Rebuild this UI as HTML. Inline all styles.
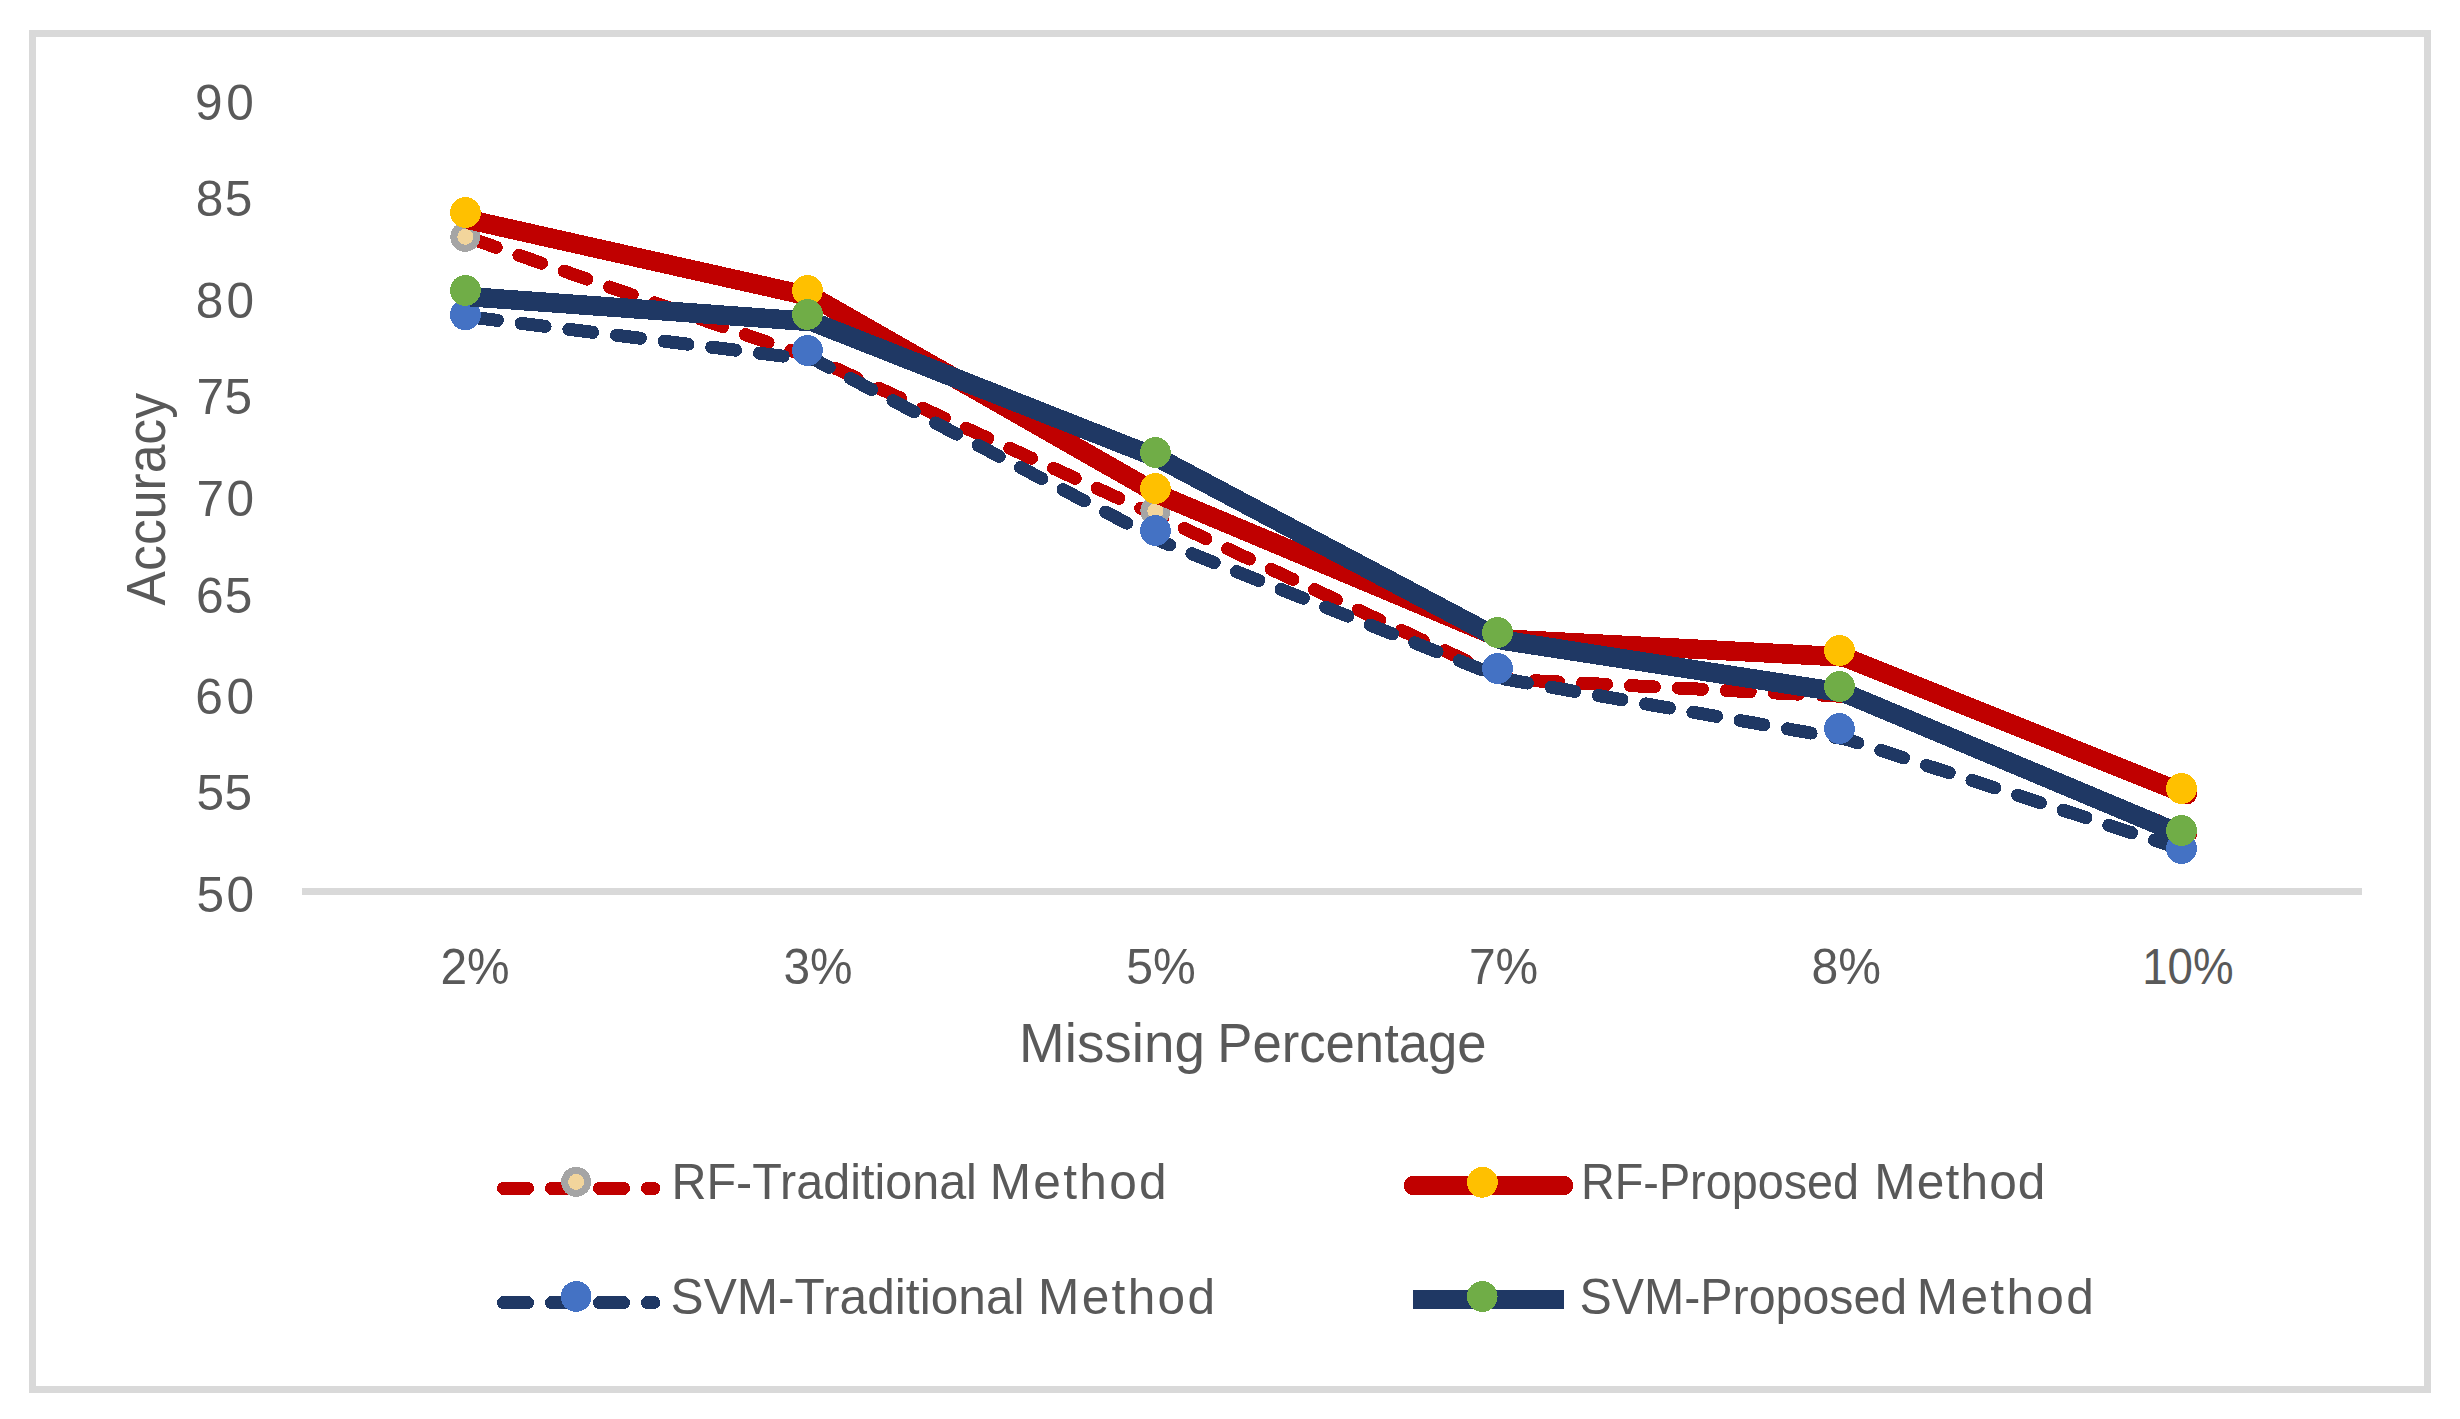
<!DOCTYPE html>
<html lang="en"><head><meta charset="utf-8"><title>Accuracy vs Missing Percentage</title>
<style>html,body{margin:0;padding:0;background:#fff;}body{width:2460px;height:1419px;overflow:hidden;}svg{display:block;}text{font-family:"Liberation Sans",Arimo,Helvetica,Arial,sans-serif;fill:#595959;white-space:pre;}</style></head><body>
<svg width="2460" height="1419" viewBox="0 0 2460 1419">
<rect width="2460" height="1419" fill="#fff"/>
<rect x="32.5" y="33.5" width="2395" height="1356" fill="#fff" stroke="#D9D9D9" stroke-width="7"/>
<rect x="302" y="888" width="2060" height="7" fill="#D9D9D9"/>
<g id="y-axis-labels">
<text y="119.90" font-size="49.60" ><tspan x="195.12" textLength="58.68" lengthAdjust="spacing">90</tspan></text>
<text y="216.00" font-size="49.60" ><tspan x="195.82" textLength="56.58" lengthAdjust="spacing">85</tspan></text>
<text y="318.00" font-size="49.60" ><tspan x="195.72" textLength="58.38" lengthAdjust="spacing">80</tspan></text>
<text y="414.20" font-size="49.60" ><tspan x="196.62" textLength="55.48" lengthAdjust="spacing">75</tspan></text>
<text y="516.10" font-size="49.60" ><tspan x="196.52" textLength="57.58" lengthAdjust="spacing">70</tspan></text>
<text y="612.50" font-size="49.60" ><tspan x="196.02" textLength="56.28" lengthAdjust="spacing">65</tspan></text>
<text y="714.00" font-size="49.60" ><tspan x="195.22" textLength="58.88" lengthAdjust="spacing">60</tspan></text>
<text y="810.20" font-size="49.60" ><tspan x="196.52" textLength="55.58" lengthAdjust="spacing">55</tspan></text>
<text y="912.20" font-size="49.60" ><tspan x="196.52" textLength="57.58" lengthAdjust="spacing">50</tspan></text>
</g>
<g id="x-axis-labels">
<text y="984.40" font-size="49.60" ><tspan x="440.41" textLength="69.18" lengthAdjust="spacingAndGlyphs">2%</tspan></text>
<text y="984.40" font-size="49.60" ><tspan x="783.39" textLength="69.10" lengthAdjust="spacingAndGlyphs">3%</tspan></text>
<text y="984.40" font-size="49.60" ><tspan x="1126.18" textLength="69.52" lengthAdjust="spacingAndGlyphs">5%</tspan></text>
<text y="984.40" font-size="49.60" ><tspan x="1468.90" textLength="69.29" lengthAdjust="spacingAndGlyphs">7%</tspan></text>
<text y="984.40" font-size="49.60" ><tspan x="1811.58" textLength="69.42" lengthAdjust="spacingAndGlyphs">8%</tspan></text>
<text y="984.40" font-size="49.60" ><tspan x="2142.15" textLength="91.39" lengthAdjust="spacingAndGlyphs">10%</tspan></text>
</g>
<text y="1061.60" font-size="54.80" id="x-title"><tspan x="1019.02" textLength="186.00" lengthAdjust="spacing">Missing</tspan> <tspan x="1217.29" textLength="269.37" lengthAdjust="spacingAndGlyphs">Percentage</tspan></text>
<text id="y-title" transform="translate(164.8,605.40) rotate(-90)" font-size="54.80" textLength="212.42" lengthAdjust="spacingAndGlyphs">Accuracy</text>
<g id="plot" fill="none" shape-rendering="crispEdges">
<polyline points="473.60,239.40 815.60,359.20 1163.60,518.80 1505.75,679.30 1847.65,696.60 2191.00,834.00" stroke="#C00000" stroke-width="13.0" stroke-dasharray="24 24" stroke-linecap="round" stroke-linejoin="round"/>
<circle cx="465.30" cy="236.80" r="11.5" fill="#F2D59C" stroke="#A5A5A5" stroke-width="7"/>
<circle cx="807.40" cy="350.50" r="11.5" fill="#F2D59C" stroke="#A5A5A5" stroke-width="7"/>
<circle cx="1155.40" cy="511.00" r="11.5" fill="#F2D59C" stroke="#A5A5A5" stroke-width="7"/>
<circle cx="1497.50" cy="668.50" r="11.5" fill="#F2D59C" stroke="#A5A5A5" stroke-width="7"/>
<circle cx="1839.40" cy="686.50" r="11.5" fill="#F2D59C" stroke="#A5A5A5" stroke-width="7"/>
<circle cx="2181.50" cy="830.40" r="11.5" fill="#F2D59C" stroke="#A5A5A5" stroke-width="7"/>
<polyline points="470.40,220.00 812.40,296.80 1160.40,495.30 1502.50,639.00 1844.40,657.00 2187.00,794.60" stroke="#C00000" stroke-width="19.5" stroke-linecap="round" stroke-linejoin="round"/>
<circle cx="465.40" cy="212.60" r="15.4" fill="#FFC000"/>
<circle cx="807.40" cy="290.50" r="15.4" fill="#FFC000"/>
<circle cx="1155.40" cy="488.60" r="15.4" fill="#FFC000"/>
<circle cx="1497.50" cy="632.60" r="14" fill="#FFC000"/>
<circle cx="1839.40" cy="650.50" r="15.4" fill="#FFC000"/>
<circle cx="2181.50" cy="788.50" r="15.4" fill="#FFC000"/>
<polyline points="473.60,317.40 815.60,360.20 1163.60,542.40 1505.75,679.20 1847.65,739.50 2189.75,851.80" stroke="#1F3864" stroke-width="13.0" stroke-dasharray="24 24" stroke-linecap="round" stroke-linejoin="round"/>
<circle cx="465.40" cy="314.80" r="15.4" fill="#4472C4"/>
<circle cx="807.40" cy="350.50" r="15.4" fill="#4472C4"/>
<circle cx="1155.40" cy="530.60" r="15.4" fill="#4472C4"/>
<circle cx="1497.50" cy="668.50" r="15.4" fill="#4472C4"/>
<circle cx="1839.40" cy="728.60" r="15.4" fill="#4472C4"/>
<circle cx="2181.50" cy="848.50" r="15.4" fill="#4472C4"/>
<polyline points="470.40,296.80 812.40,321.70 1160.40,459.00 1502.50,640.20 1844.40,692.90 2186.50,836.50" stroke="#1F3864" stroke-width="19.5" stroke-linecap="butt" stroke-linejoin="round"/>
<circle cx="465.40" cy="290.40" r="15.4" fill="#70AD47"/>
<circle cx="807.40" cy="314.40" r="15.4" fill="#70AD47"/>
<circle cx="1155.40" cy="452.60" r="15.4" fill="#70AD47"/>
<circle cx="1497.50" cy="632.60" r="15.4" fill="#70AD47"/>
<circle cx="1839.40" cy="686.50" r="15.4" fill="#70AD47"/>
<circle cx="2181.50" cy="830.40" r="15.4" fill="#70AD47"/>
</g>
<g id="legend" shape-rendering="crispEdges">
<line x1="503.5" y1="1188.4" x2="653.8" y2="1188.4" stroke="#C00000" stroke-width="13.0" stroke-dasharray="24 24" stroke-linecap="round"/>
<circle cx="576.10" cy="1181.90" r="11.5" fill="#F2D59C" stroke="#A5A5A5" stroke-width="7"/>
<text y="1199.40" font-size="49.60" ><tspan x="671.42" textLength="305.48" lengthAdjust="spacingAndGlyphs">RF-Traditional</tspan> <tspan x="989.63" textLength="177.02" lengthAdjust="spacing">Method</tspan></text>
<line x1="1413.4" y1="1185.5" x2="1563.4" y2="1185.5" stroke="#C00000" stroke-width="19.5" stroke-linecap="round"/>
<circle cx="1482.40" cy="1182.30" r="15.4" fill="#FFC000"/>
<text y="1199.40" font-size="49.60" ><tspan x="1581.06" textLength="277.97" lengthAdjust="spacingAndGlyphs">RF-Proposed</tspan> <tspan x="1874.33" textLength="171.12" lengthAdjust="spacing">Method</tspan></text>
<line x1="503.5" y1="1302.6" x2="653.8" y2="1302.6" stroke="#1F3864" stroke-width="13.0" stroke-dasharray="24 24" stroke-linecap="round"/>
<circle cx="576.10" cy="1296.50" r="15.4" fill="#4472C4"/>
<text y="1313.50" font-size="49.60" ><tspan x="670.52" textLength="354.05" lengthAdjust="spacing">SVM-Traditional</tspan> <tspan x="1038.03" textLength="177.02" lengthAdjust="spacing">Method</tspan></text>
<line x1="1413" y1="1299.3" x2="1564.1" y2="1299.3" stroke="#1F3864" stroke-width="19.5" stroke-linecap="butt"/>
<circle cx="1482.20" cy="1296.50" r="15.4" fill="#70AD47"/>
<text y="1313.50" font-size="49.60" ><tspan x="1579.48" textLength="327.75" lengthAdjust="spacingAndGlyphs">SVM-Proposed</tspan> <tspan x="1916.83" textLength="176.92" lengthAdjust="spacing">Method</tspan></text>
</g>
</svg></body></html>
